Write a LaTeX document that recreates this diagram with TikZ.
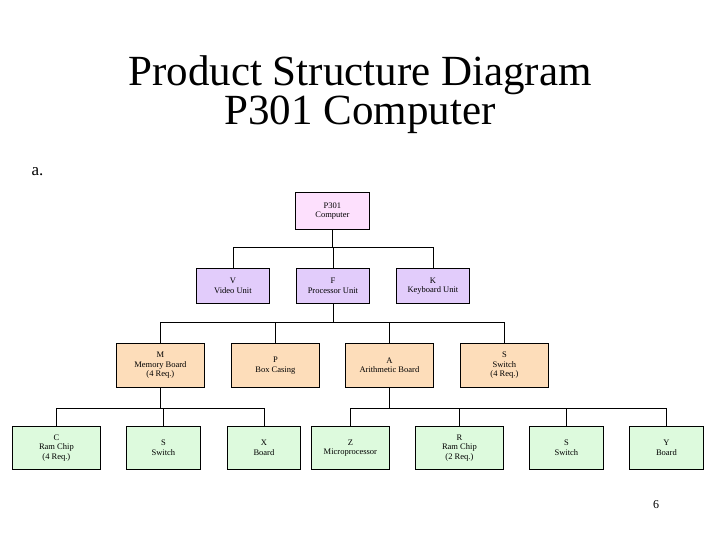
\documentclass[tikz,border=0pt]{standalone}
\usepackage{fontspec}
\setmainfont{Liberation Serif}
\definecolor{topc}{HTML}{FDE0FD}
\definecolor{lvla}{HTML}{E2CCFB}
\definecolor{lvlb}{HTML}{FDDDBA}
\definecolor{lvlc}{HTML}{DDFADD}
\tikzset{
  part/.style={draw,thick,align=center,font=\fontsize{8.5}{9.5}\selectfont,inner sep=0pt,anchor=north west},
  link/.style={semithick}
}
\begin{document}
\begin{tikzpicture}[x=1pt,y=-1pt]
            \useasboundingbox (0,0) rectangle (720,540);
            % Titulo
            \node[align=center] (title) at (360,95) {\fontsize{43}{50}\selectfont Product Structure Diagram\\\fontsize{43}{50}\selectfont P301 Computer};
            \node[anchor=west] (sub) at (28,172) {\fontsize{17}{19}\selectfont a.};
            \node (page) at (656,505) {\fontsize{12}{14}\selectfont 6};

            % Nivel 0
            \node[part,fill=topc,minimum width=74,minimum height=37] (pc) at (295,192) {P301\\Computer};

            % Nivel 1
            \node[part,fill=lvla,minimum width=73,minimum height=35] (v) at (196,268) {V\\Video Unit};
            \node[part,fill=lvla,minimum width=73,minimum height=35] (f) at (296,268) {F\\Processor Unit};
            \node[part,fill=lvla,minimum width=73,minimum height=35] (k) at (396,268) {K\\Keyboard Unit};

            % Nivel 2
            \node[part,fill=lvlb,minimum width=88,minimum height=44] (m) at (116,343) {M\\Memory Board\\(4 Req.)};
            \node[part,fill=lvlb,minimum width=88,minimum height=44] (p) at (231,343) {P\\Box Casing};
            \node[part,fill=lvlb,minimum width=88,minimum height=44] (a) at (345,343) {A\\Arithmetic Board};
            \node[part,fill=lvlb,minimum width=88,minimum height=44] (s) at (460,343) {S\\Switch\\(4 Req.)};

            % Nivel 3
            \node[part,fill=lvlc,minimum width=88,minimum height=43] (c) at (12,426) {C\\Ram Chip\\(4 Req.)};
            \node[part,fill=lvlc,minimum width=74,minimum height=43] (sm) at (126,426) {S\\Switch};
            \node[part,fill=lvlc,minimum width=73,minimum height=43] (x) at (227,426) {X\\Board};
            \node[part,fill=lvlc,minimum width=78,minimum height=43] (z) at (311,426) {Z\\Microprocessor};
            \node[part,fill=lvlc,minimum width=88,minimum height=43] (r) at (415,426) {R\\Ram Chip\\(2 Req.)};
            \node[part,fill=lvlc,minimum width=74,minimum height=43] (sa) at (529,426) {S\\Switch};
            \node[part,fill=lvlc,minimum width=74,minimum height=43] (y) at (629,426) {Y\\Board};

            % Lineas
            \draw[link,thick] (pc.south) -- ++(0,18) coordinate (b0);
            \foreach \n in {v,f,k}
              \draw[link,thick] (b0) -| (\n.north);
            \draw[link,thick] (f.south) -- ++(0,19) coordinate (b1);
            \foreach \n in {m,p,a,s}
              \draw[link,thick] (b1) -| (\n.north);
            \draw[link] (m.south) -- ++(0,20) coordinate (b2);
            \foreach \n in {c,sm,x}
              \draw[link] (b2) -| (\n.north);
            \draw[link] (a.south) -- ++(0,20) coordinate (b3);
            \foreach \n in {z,r,sa,y}
              \draw[link] (b3) -| (\n.north);
        \end{tikzpicture}
\end{document}
